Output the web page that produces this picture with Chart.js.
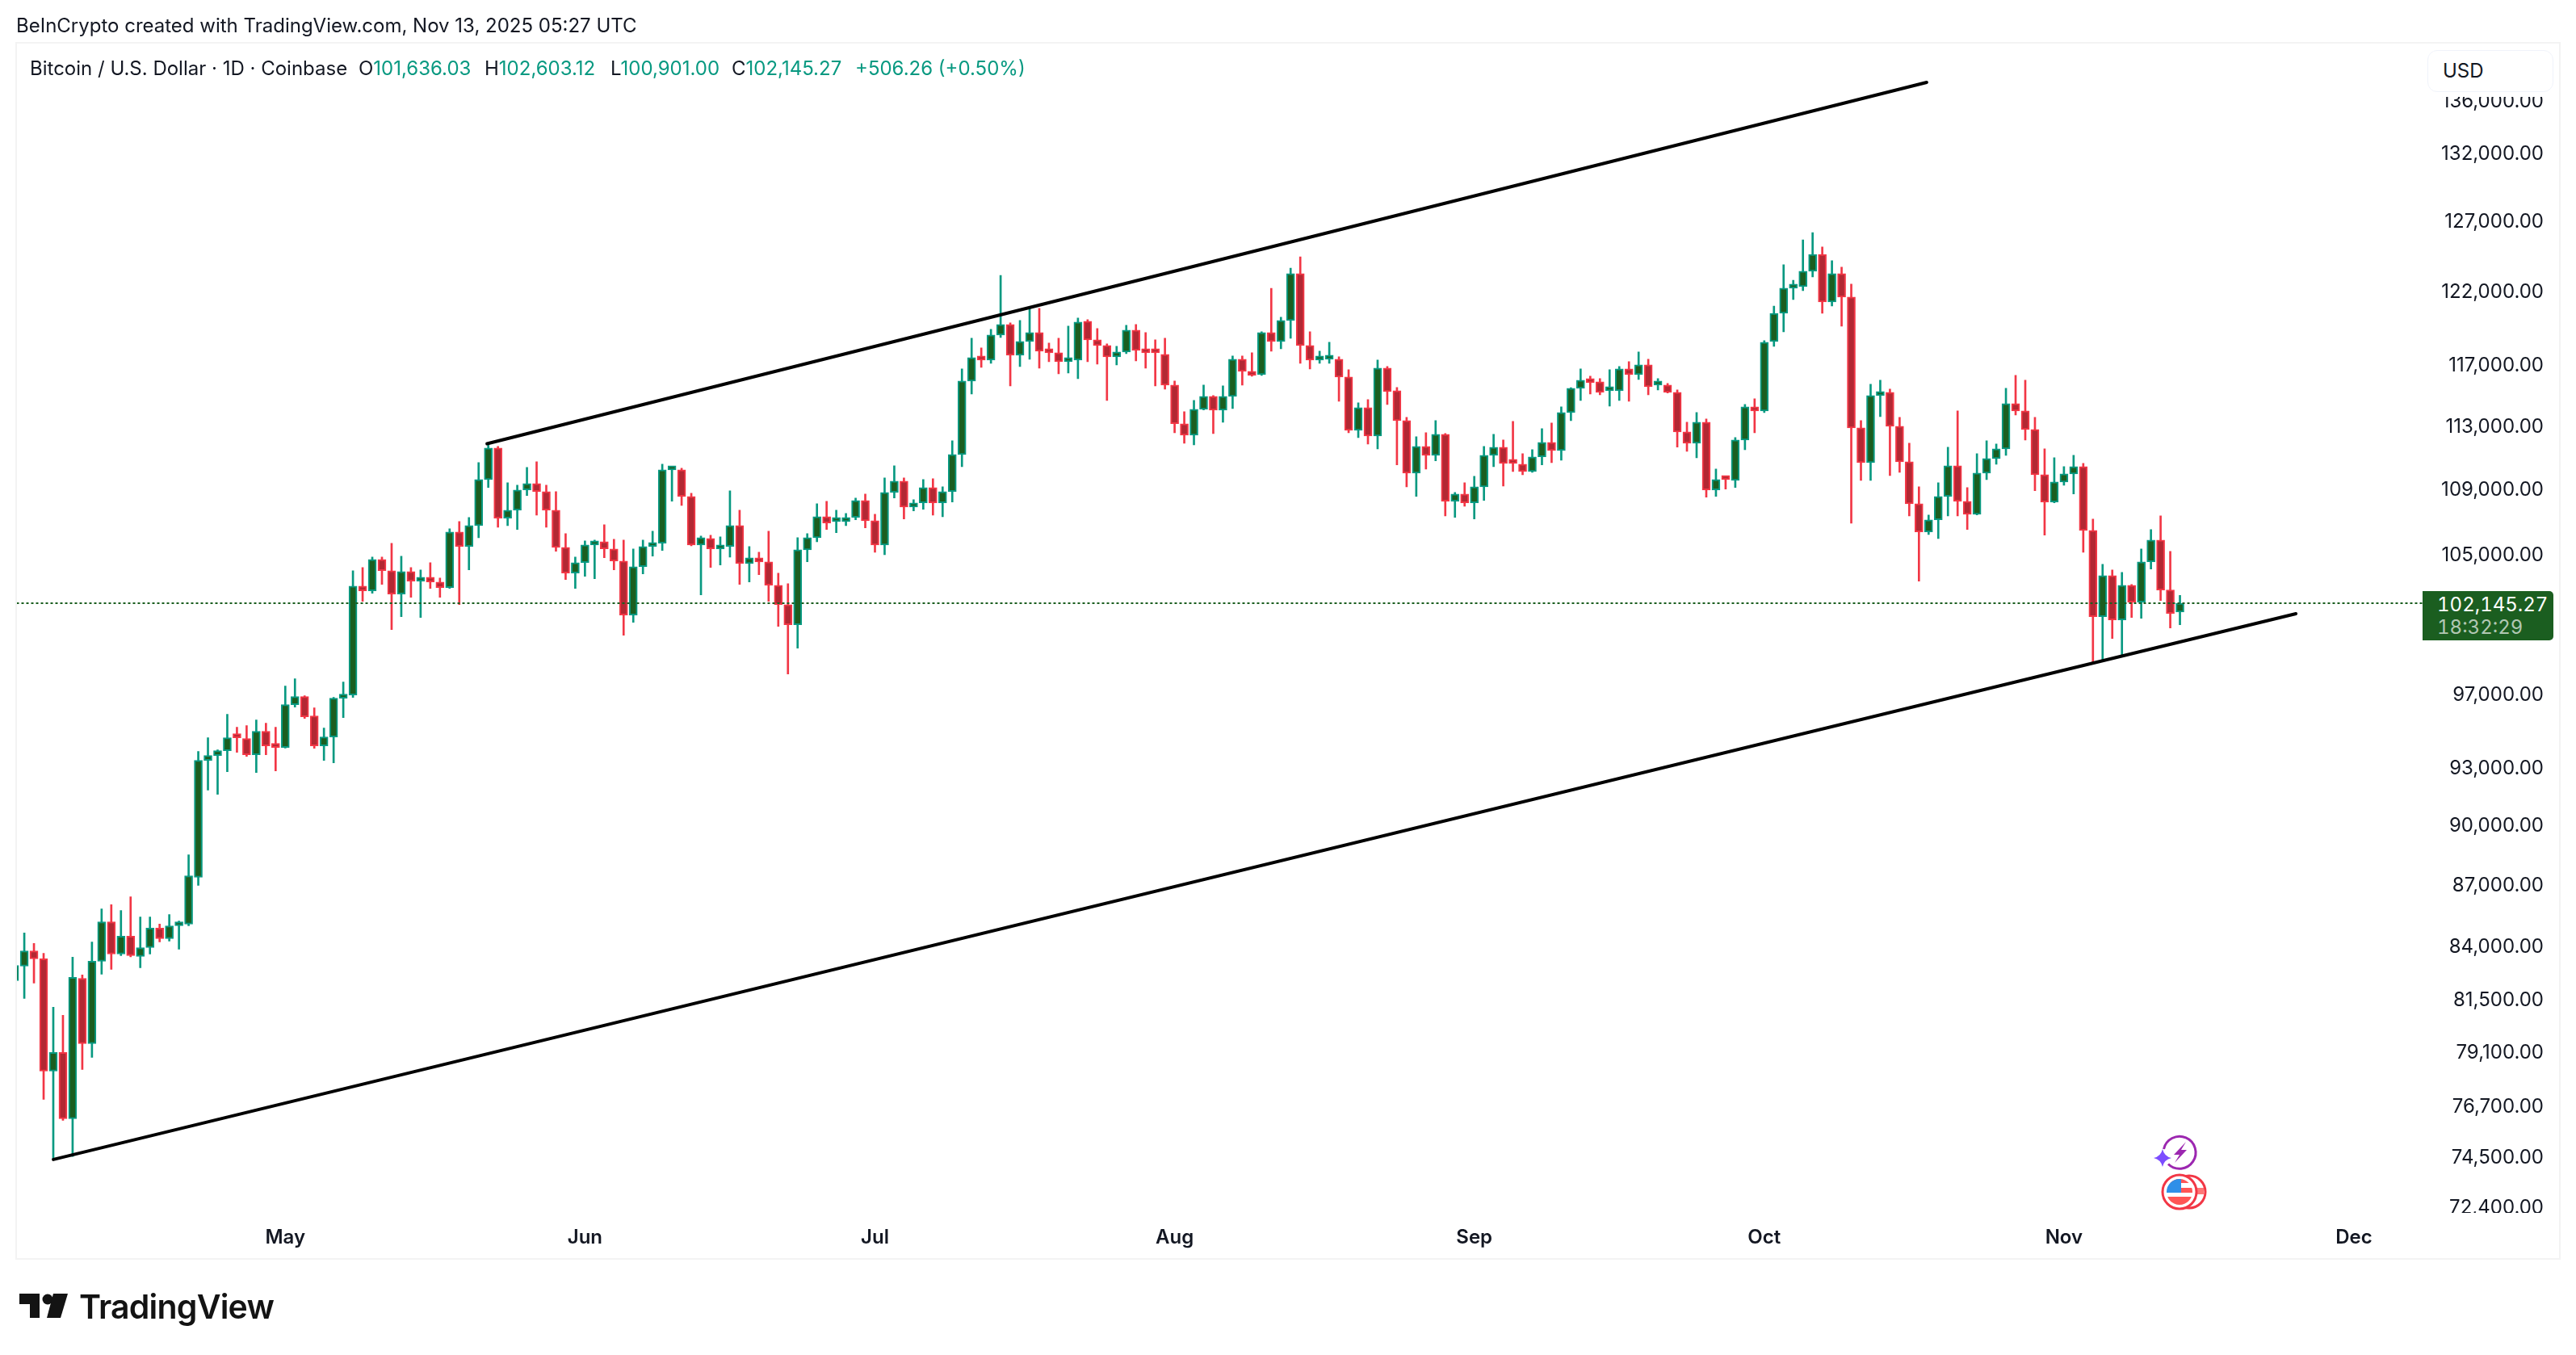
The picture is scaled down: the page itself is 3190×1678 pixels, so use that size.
<!DOCTYPE html>
<html>
<head>
<meta charset="utf-8">
<title>BTCUSD</title>
<script src="https://cdn.jsdelivr.net/npm/chart.js@4/dist/chart.umd.min.js"></script>
<style>
  html, body { margin: 0; padding: 0; background: #fff; }
  body { width: 3190px; height: 1678px; position: relative; overflow: hidden; font-family: Inter, Roboto, sans-serif; color: #131722; }
  canvas { position: absolute; left: 0; top: 0; }
  .t { position: absolute; white-space: nowrap; font-size: 24px; line-height: 28px; }
  .up { color: #089981; }
  #pane { position: absolute; left: 19px; top: 52px; width: 3148px; height: 1504px; border: 2px solid #f3f3f3; }
  #usd { position: absolute; left: 3006px; top: 62px; width: 154px; height: 50px; background: #fff; border: 1px solid #f0f3fa; border-radius: 12px; font-size: 24px; line-height: 50px; text-indent: 18px; }
  #axiscut { position: absolute; left: 3001px; top: 1502px; width: 166px; height: 54px; background: #fff; }
  #axiscut2 { position: absolute; left: 3001px; top: 112px; width: 166px; height: 8px; background: #fff; }
  #tag { position: absolute; left: 3000px; top: 732px; width: 162px; height: 61px; background: #1b5e20; border-radius: 0 5px 5px 0; color: #fff; font-size: 24px; font-variant-numeric: tabular-nums; }
  #tag div { position: absolute; left: 18px; white-space: nowrap; }
  #logo { position: absolute; left: 98px; top: 1594px; font-size: 41px; line-height: 48px; font-weight: 600; letter-spacing: -0.8px; color: #131313; }
  svg { position: absolute; }
</style>
</head>
<body>
<canvas id="chart" width="3190" height="1678"></canvas>
<div id="pane"></div>
<div id="axiscut"></div>
<div id="axiscut2"></div>
<div id="usd">USD</div>

<div class="t" style="left:20px;top:18px">BeInCrypto created with TradingView.com, Nov 13, 2025 05:27 UTC</div>
<div class="t" style="left:37px;top:71px">Bitcoin / U.S. Dollar · 1D · Coinbase</div>
<div class="t" style="left:444px;top:71px">O<span class="up">101,636.03</span></div>
<div class="t" style="left:600px;top:71px">H<span class="up">102,603.12</span></div>
<div class="t" style="left:756px;top:71px">L<span class="up">100,901.00</span></div>
<div class="t" style="left:906px;top:71px">C<span class="up">102,145.27</span></div>
<div class="t up" style="left:1059px;top:71px">+506.26 (+0.50%)</div>

<div id="tag">
  <div style="top:2px">102,145.27</div>
  <div style="top:30px;color:rgba(255,255,255,.68)">18:32:29</div>
</div>

<!-- event markers -->
<svg style="left:2665px;top:1400px" width="60" height="60" viewBox="0 0 60 60">
  <path d="M14.5 23 A20 20 0 1 1 20 41.5" fill="none" stroke="#9c27b0" stroke-width="3"/>
  <path d="M42 14 L27 30 L34 30 L28 40 L43 24 L36 24 Z" fill="#9c27b0"/>
  <path d="M13 23 Q15 32 24 34 Q15 36 13 45 Q11 36 2 34 Q11 32 13 23 Z" fill="#7c4dff"/>
</svg>
<svg style="left:2670px;top:1450px" width="70" height="52" viewBox="0 0 70 52">
  <circle cx="41" cy="26" r="20" fill="#fff" stroke="#f23645" stroke-width="3"/>
  <rect x="30" y="21" width="29" height="8" fill="#f77" />
  <circle cx="29" cy="26" r="21" fill="#fff" stroke="#f23645" stroke-width="3"/>
  <clipPath id="flagclip"><circle cx="29" cy="26" r="16"/></clipPath>
  <g clip-path="url(#flagclip)">
    <rect x="13" y="10" width="32" height="32" fill="#fff"/>
    <rect x="13" y="10" width="32" height="5" fill="#f55"/>
    <rect x="29" y="21" width="16" height="6" fill="#f55"/>
    <rect x="13" y="32" width="32" height="10" fill="#f55"/>
    <rect x="13" y="10" width="18" height="17" fill="#2f8fe8"/>
  </g>
</svg>

<!-- TradingView logo -->
<svg style="left:24px;top:1602px" width="62" height="31" viewBox="0 0 62 31">
  <path d="M0 0 H25 V30 H13 V13 H0 Z" fill="#131313"/>
  <circle cx="35" cy="7" r="6.5" fill="#131313"/>
  <path d="M42 0 H60 L51 30 H34 Z" fill="#131313"/>
</svg>
<div id="logo">TradingView</div>

<script>
// daily candles, day 0 = Apr 3 2025 (only half visible at the left edge)
var opens = [82380,
  83065,83790,83410,78240,79075,76145,82490,79475,83295,85190,
  83640,84490,83525,83945,84880,84370,84995,85075,87375,93400,
  93655,93916,94655,94565,93700,94960,94175,94090,96410,96855,
  95795,94175,94655,96765,96945,103155,102870,104730,104060,102680,
  104010,103440,103680,103390,103060,106385,105505,106775,109610,111595,
  107220,107715,108960,109360,108860,107715,105455,103915,104540,105600,
  105795,105360,104635,101460,104300,105505,105700,110220,110220,108560,
  105600,105990,105360,105505,106775,104490,104830,104585,103200,102070,
  100900,105310,106040,107315,107020,107020,107270,108310,107070,105600,
  108810,109510,107910,108160,109110,108160,108860,111185,115940,117500,
  117335,119020,119735,117660,118585,119185,117930,117820,117225,117335,
  119955,118690,118310,117550,117875,119350,117985,117875,117715,115675,
  113150,112420,114090,114930,114035,114930,117390,116580,116365,119185,
  118585,120010,123255,118310,117335,117390,117390,116205,112730,114195,
  112370,116795,115300,113355,110015,111700,111135,112470,108260,108710,
  108160,109160,111135,111650,110675,110575,110115,111035,111955,111440,
  113880,115460,115995,115885,115300,115300,116740,116365,117010,115675,
  115675,115195,112625,111905,113250,108960,109660,109560,112110,114245,
  113985,118585,120505,122240,122350,123425,124620,121285,123255,121620,
  112885,110675,114985,115195,112990,110725,108110,106385,107120,108560,
  110475,108260,107465,110015,110930,111545,114455,113985,112785,109915,
  108210,109460,109965,110420,106480,101370,103775,101180,103200,102210,
  104590,105895,102920,101636.03];
var highs = [83700,
  84650,84140,83675,81140,80765,83485,82645,84215,85820,86020,
  85740,86415,85425,85425,85075,85545,85230,88505,93870,94610,
  93960,95880,95175,95265,95570,95395,95175,97435,97840,96900,
  96235,95135,96810,97660,104060,104250,104875,104875,105700,104925,
  104250,104110,104540,103630,106580,107020,107270,110675,111905,111700,
  109410,109260,110370,110725,109260,108860,106285,104875,105845,105895,
  106825,105945,105895,105360,105895,106430,110575,110320,110320,108760,
  106140,106190,106090,108910,107715,105505,105165,106430,103915,103295,
  106040,106285,108110,108260,107715,107515,108460,108710,107465,109715,
  110475,109715,108360,109610,109660,109160,112060,116740,118800,118145,
  119405,123140,119845,120010,120895,120840,118475,118800,119625,120175,
  120065,119460,118420,118255,119680,119735,119185,118690,118800,115940,
  113930,114665,115675,114985,115620,117605,117605,117820,119240,122235,
  120230,123650,124450,119240,117930,118530,117550,116685,114510,114720,
  117335,116905,115515,113565,112315,112575,113355,112525,108810,109410,
  109815,111700,112470,112110,113305,111240,111495,112835,113200,114245,
  115500,116740,116260,116100,116685,116905,117225,117875,117390,116100,
  115780,115355,113250,113880,113460,110270,109715,112265,114405,114775,
  118635,121005,123880,122800,125655,126170,125140,124165,123710,122520,
  113355,115725,115995,115410,113565,111905,109160,107415,109410,111650,
  113985,109110,111240,112060,111855,115460,116315,115995,113565,111545,
  110980,110420,111135,110625,107170,104445,104110,103965,103250,105360,
  106530,107365,105215,102603.12];
var lows = [81900,
  81550,82265,76990,74415,76075,74520,78315,78855,82680,82910,
  83560,83500,82985,83640,84215,84255,83870,85000,86975,91825,
  91610,92800,93830,93615,92755,93700,92840,94050,96280,95660,
  94045,93400,93270,95705,96810,102260,102730,103250,100625,101370,
  102490,101320,103010,102490,103010,102070,104110,106040,109110,106675,
  106775,106530,108610,107415,106675,105215,103535,103010,103725,103585,
  104830,104110,100300,101040,103870,104925,105265,108260,108010,105550,
  102635,104250,104395,104875,103250,103390,103820,102260,100810,98110,
  99565,104590,105795,106530,106335,106775,107120,106630,105165,105020,
  108460,107170,107665,107765,107415,107315,108210,110420,115090,116850,
  117120,118855,115620,116905,117390,116795,117225,116420,116475,116100,
  117225,117065,114665,117010,117765,117280,116795,115620,115410,112575,
  111905,111800,114040,112525,113250,114140,115675,116260,116315,117930,
  118095,118800,117120,116740,117120,117120,114615,112575,112265,111855,
  111545,114405,110525,109160,108560,110270,110780,107365,107270,107960,
  107170,108310,110420,109210,110115,109915,110060,110525,110675,110830,
  113355,114665,115090,115035,114300,114665,114615,116045,115035,115355,
  115150,111650,111390,110980,108510,108560,109010,109110,111495,112575,
  113880,118255,119240,121450,122070,123030,120505,121005,119625,106920,
  109560,109560,113615,109865,110065,107365,103440,106235,105990,107365,
  107365,106530,107420,109610,110575,111135,113720,112110,108910,106190,
  108170,109260,108710,105165,98790,98835,100115,99060,101320,101275,
  104155,102305,100715,100901];
var closes = [83100,
  83790,83410,78240,79075,76145,82530,79475,83295,85190,83640,
  84490,83560,83945,84880,84370,84995,85075,87455,93400,93655,
  93916,94610,94610,93700,94960,94175,94090,96410,96855,95750,
  94175,94655,96765,96945,103155,102870,104730,104060,102680,104010,
  103440,103680,103390,103060,106385,105505,106775,109610,111595,107220,
  107715,108960,109360,108860,107715,105455,103915,104540,105600,105795,
  105360,104635,101460,104300,105505,105700,110220,110270,108560,105600,
  106040,105360,105505,106775,104490,104830,104585,103200,102070,100900,
  105310,106040,107315,106925,107070,107270,108310,107070,105600,108810,
  109510,107910,108160,109110,108160,108860,111185,115940,117500,117335,
  119020,119735,117660,118585,119185,117930,117820,117225,117335,119900,
  118690,118310,117550,117875,119350,117985,117820,117820,115675,113150,
  112420,114090,114930,114035,114930,117390,116580,116315,119185,118585,
  120010,123255,118310,117335,117390,117445,116205,112730,114195,112370,
  116795,115250,113355,110015,111700,111135,112470,108260,108710,108160,
  109160,111135,111650,110625,110625,110115,111035,111955,111440,113880,
  115460,115995,115830,115195,115355,116740,116365,117010,115565,115725,
  115195,112625,111905,113250,108960,109610,109610,112110,114245,113985,
  118525,120505,122240,122350,123425,124620,121285,123255,121620,112885,
  110675,114985,115195,112990,110725,108110,106385,107120,108560,110475,
  108260,107465,110015,110930,111545,114455,113985,112785,109915,108210,
  109460,109965,110420,106480,101370,103775,101180,103200,102210,104590,
  105895,102920,101555,102145.27];

var priceTicks = [136000,132000,127000,122000,117000,113000,109000,105000,97000,93000,90000,87000,84000,81500,79100,76700,74500,72400];
var monthLabels = ['May','Jun','Jul','Aug','Sep','Oct','Nov','Dec'];
var monthDays = [28,59,89,120,151,181,212,242];

// the two drawn channel lines
var upperDays = [48.87,197.8];
var upperPrices = [111870,137455];
var lowerDays = [4.01,236];
var lowerPrices = [74397,101544];
var lastPrice = 102145.27;

var xMin = 0.2, xMax = 249.1;
var yMin = 72166, yMax = 140461;

var UP = '#089981', UP_BODY = '#1b5e20', DOWN = '#f23645', DOWN_BODY = '#b22833';

function pairs(xs, ys) {
  return xs.map(function(x, i) { return {x: x, y: ys[i]}; });
}
function isUp(i) { return closes[i] >= opens[i]; }

var wickData = opens.map(function(o, i) { return {x: i, y: [lows[i], highs[i]]}; });
var bodyData = opens.map(function(o, i) { return {x: i, y: [o, closes[i]]}; });

new Chart(document.getElementById('chart'), {
  type: 'bar',
  data: {
    datasets: [
      {type: 'line', order: 0, data: pairs(upperDays, upperPrices), borderColor: '#000', borderWidth: 4, borderCapStyle: 'round', pointRadius: 0},
      {type: 'line', order: 0, data: pairs(lowerDays, lowerPrices), borderColor: '#000', borderWidth: 4, borderCapStyle: 'round', pointRadius: 0},
      {type: 'line', order: 1, data: pairs([xMin, xMax], [lastPrice, lastPrice]), borderColor: '#1b5e20', borderWidth: 2, borderDash: [3, 3], pointRadius: 0},
      {
        order: 2, data: bodyData, grouped: false, barPercentage: 1, categoryPercentage: 1, maxBarThickness: 10, minBarLength: 5,
        borderWidth: 2, borderSkipped: false,
        backgroundColor: function(c) { return isUp(c.dataIndex) ? UP_BODY : DOWN_BODY; },
        borderColor: function(c) { return isUp(c.dataIndex) ? UP : DOWN; }
      },
      {
        order: 3, data: wickData, grouped: false, barPercentage: 1, categoryPercentage: 1, maxBarThickness: 2,
        borderWidth: 0,
        backgroundColor: function(c) { return isUp(c.dataIndex) ? UP : DOWN; }
      }
    ]
  },
  options: {
    responsive: false,
    animation: false,
    events: [],
    layout: {autoPadding: false, padding: {left: 20.5, top: 55, right: 40, bottom: 120}},
    plugins: {legend: {display: false}, tooltip: {enabled: false}},
    scales: {
      x: {
        type: 'linear', min: xMin, max: xMax, offset: false,
        grid: {display: false}, border: {display: false},
        afterFit: function(s) { s.height = 56; },
        afterBuildTicks: function(s) { s.ticks = monthDays.map(function(d) { return {value: d}; }); },
        ticks: {
          autoSkip: false, maxRotation: 0, padding: 8, color: '#131722',
          font: {family: 'Inter', size: 24, weight: '600'},
          callback: function(v) { return monthLabels[monthDays.indexOf(v)]; }
        }
      },
      y: {
        type: 'logarithmic', position: 'right', min: yMin, max: yMax,
        grid: {display: false}, border: {display: false},
        afterFit: function(s) { s.width = 150; },
        afterBuildTicks: function(s) { s.ticks = priceTicks.map(function(p) { return {value: p}; }); },
        ticks: {
          autoSkip: false, padding: 0, crossAlign: 'far', labelOffset: 1, color: '#131722',
          font: {family: 'Inter', size: 24},
          callback: function(v) { return v.toLocaleString('en-US', {minimumFractionDigits: 2}); }
        }
      }
    }
  }
});
</script>
</body>
</html>
